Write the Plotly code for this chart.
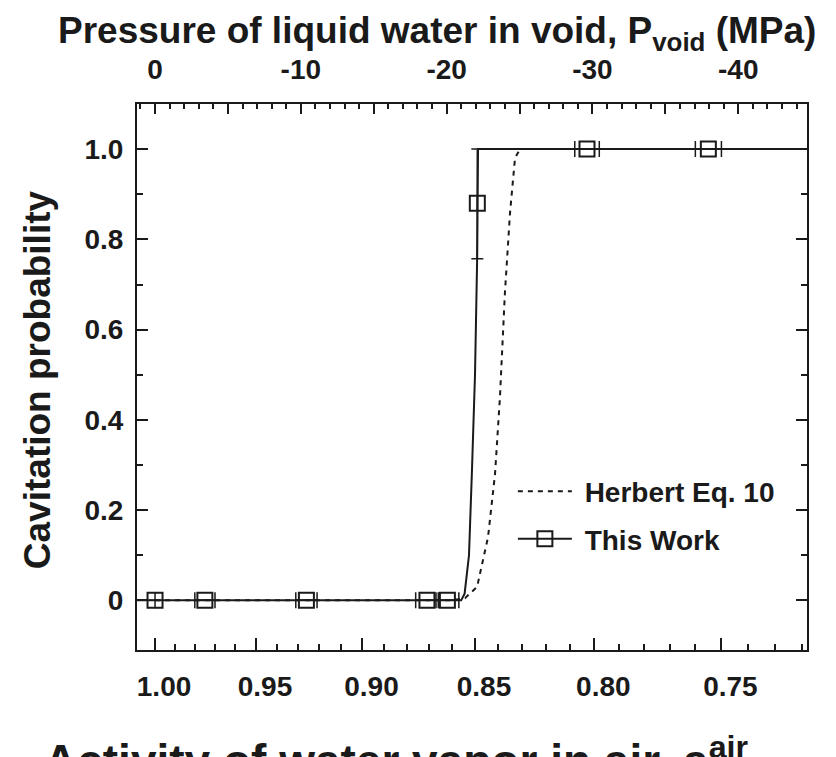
import numpy as np
import plotly.graph_objects as go

# water activity in air (a_air) vs cavitation probability
herbert_a = [1.00, 0.860, 0.8543, 0.8491, 0.8444, 0.8414, 0.8393, 0.8372, 0.8350, 0.8329, 0.8308, 0.80, 0.70]
herbert_p = [0, 0, 0.005, 0.03, 0.14, 0.28, 0.45, 0.68, 0.86, 0.98, 1.0, 1.0, 1.0]

fit_a = [1.02, 0.8560, 0.8545, 0.8526, 0.8513, 0.8500, 0.8491, 0.8487, 0.70]
fit_p = [0, 0, 0.015, 0.10, 0.29, 0.50, 0.75, 1.0, 1.0]

work_a = [1.000, 0.975, 0.926, 0.871, 0.862, 0.849, 0.803, 0.755]
work_p = [0, 0, 0, 0, 0, 0.88, 1.0, 1.0]
work_da = [None, 0.005, 0.005, 0.005, 0.005, None, 0.005, 0.005]
work_dp_up = [None, None, None, None, None, 0.12, None, None]
work_dp_dn = [None, None, None, None, None, 0.123, None, None]

x_ticks = [1.00, 0.95, 0.90, 0.85, 0.80, 0.75]
x_ticktext = ["1.00", "0.95", "0.90", "0.85", "0.80", "0.75"]
p_ticks = [0, -10, -20, -30, -40]
p_ticktext = ["0", "-10", "-20", "-30", "-40"]
p_mid_ticks = [-5, -15, -25, -35]
y_ticks = [0, 0.2, 0.4, 0.6, 0.8, 1.0]
y_ticktext = ["0", "0.2", "0.4", "0.6", "0.8", "1.0"]

# P_void = RT/Vw * ln(a)
k_mpa = 8.314 * 293.15 / 18.05e-6 / 1e6
a_left, a_right = 1.0092, 0.7181
p_range = [k_mpa * np.log(a_left), k_mpa * np.log(a_right)]

ink = "#1a1a1a"
font = "Liberation Sans"
tick_font = dict(family=font, size=28, color=ink, weight="bold")
sq = dict(symbol="square-open", size=15, color=ink, line=dict(width=2, color=ink))

fig = go.Figure()
fig.add_trace(go.Scatter(x=herbert_a, y=herbert_p, mode="lines", name=" Herbert Eq. 10",
                         line=dict(color=ink, width=2, dash="5px,5px"), legendgroup="h"))
fig.add_trace(go.Scatter(x=fit_a, y=fit_p, mode="lines", showlegend=False,
                         line=dict(color=ink, width=2)))
fig.add_trace(go.Scatter(x=work_a, y=work_p, mode="markers", showlegend=False, marker=sq,
                         error_x=dict(type="data", array=work_da, color=ink, thickness=1.5, width=8),
                         error_y=dict(type="data", array=work_dp_up, arrayminus=work_dp_dn, color=ink,
                                      thickness=1.5, width=6)))
# legend entry for "This Work"
fig.add_trace(go.Scatter(x=[None], y=[None], mode="lines+markers", name=" This Work", legendgroup="w",
                         line=dict(color=ink, width=2), marker=sq))
# keep the pressure axes alive
fig.add_trace(go.Scatter(x=[0], y=[None], xaxis="x2", showlegend=False, hoverinfo="skip"))
fig.add_trace(go.Scatter(x=[0], y=[None], xaxis="x3", showlegend=False, hoverinfo="skip"))

minor_a = [round(0.72 + 0.01 * i, 2) for i in range(29)]
minor_a = [v for v in minor_a if round(v * 100) % 5 != 0]

# page body adds an 8px offset, margins compensate for it
fig.update_layout(
    width=836, height=757,
    margin=dict(l=129, r=37, t=96, b=115),
    paper_bgcolor="white", plot_bgcolor="white",
    font=dict(family=font, size=28, color=ink),
    showlegend=True,
    legend=dict(x=0.561, y=0.336, xanchor="left", yanchor="top", bgcolor="rgba(0,0,0,0)",
                font=tick_font, traceorder="grouped", tracegroupgap=8, itemwidth=54),
    xaxis=dict(type="log", range=[np.log10(a_left), np.log10(a_right)], automargin=False,
               tickmode="array", tickvals=x_ticks, ticktext=x_ticktext,
               ticks="inside", ticklen=12, tickwidth=2, tickcolor=ink,
               minor=dict(tickvals=minor_a, ticks="inside", ticklen=6, tickwidth=2, tickcolor=ink),
               showline=True, linewidth=2, linecolor=ink, mirror=True, showgrid=False, zeroline=False,
               tickfont=tick_font, ticklabelstandoff=10, ticklabelshift=-9),
    xaxis2=dict(overlaying="x", side="top", range=p_range, automargin=False,
                tickmode="array", tickvals=p_ticks, ticktext=p_ticktext,
                ticks="inside", ticklen=10, tickwidth=2, tickcolor=ink,
                minor=dict(dtick=1, tick0=0, ticks="inside", ticklen=5, tickwidth=2, tickcolor=ink),
                showline=True, linewidth=2, linecolor=ink, showgrid=False, zeroline=False,
                tickfont=tick_font, ticklabelstandoff=12),
    xaxis3=dict(overlaying="x", side="top", range=p_range, automargin=False,
                tickmode="array", tickvals=p_mid_ticks, showticklabels=False,
                ticks="inside", ticklen=10, tickwidth=2, tickcolor=ink,
                showline=False, showgrid=False, zeroline=False),
    yaxis=dict(range=[-0.11, 1.1], automargin=False, tickmode="array", tickvals=y_ticks, ticktext=y_ticktext,
               ticks="inside", ticklen=11, tickwidth=2, tickcolor=ink,
               minor=dict(tickvals=[0.1, 0.3, 0.5, 0.7, 0.9], ticks="inside", ticklen=6, tickwidth=2, tickcolor=ink),
               showline=True, linewidth=2, linecolor=ink, mirror="ticks", showgrid=False, zeroline=False,
               tickfont=tick_font, ticklabelstandoff=6),
)

title_font = dict(family=font, size=37, color=ink, weight="bold")
fig.add_annotation(text="Pressure of liquid water in void, P<sub>void</sub> (MPa)",
                   xref="paper", yref="paper", x=0.448, y=1 + 96 / 546, xanchor="center", yanchor="top",
                   showarrow=False, font=title_font)
fig.add_annotation(text="Cavitation probability", textangle=-90,
                   xref="paper", yref="paper", x=-0.149, y=0.4945, xanchor="center", yanchor="middle",
                   showarrow=False, font=title_font)
fig.add_annotation(text="Activity of water vapor in air, a<sup>air</sup>",
                   xref="paper", yref="paper", x=0.387, y=-0.141, xanchor="center", yanchor="top",
                   showarrow=False, font=dict(family=font, size=46, color=ink, weight="bold"))

fig.write_html("out.html")
